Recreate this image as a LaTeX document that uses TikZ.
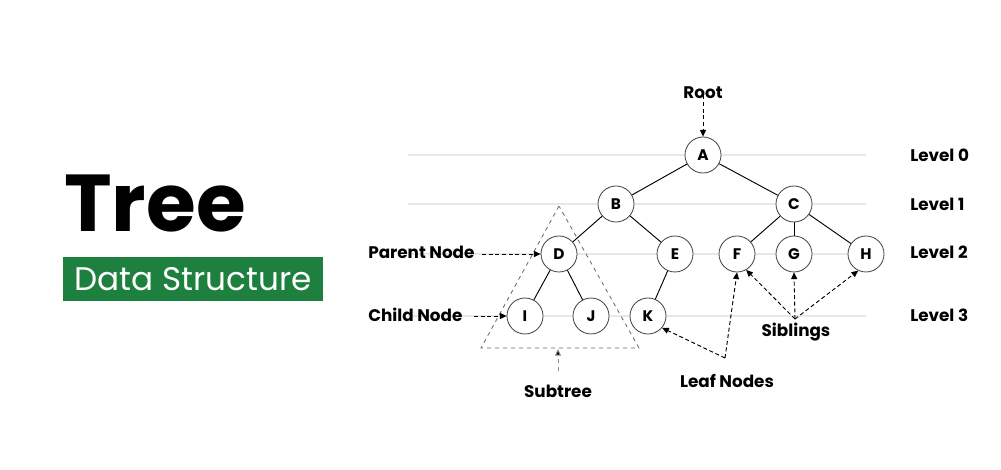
\documentclass[tikz,border=0pt]{standalone}
\usepackage{fontspec}
\setmainfont{Poppins}
\usetikzlibrary{arrows.meta}
\definecolor{gfg}{RGB}{30,128,62}
\begin{document}
\begin{tikzpicture}[x=0.75pt,y=-0.75pt,
  tn/.style={circle,draw=black!75,line width=0.6pt,fill=white,minimum size=27pt,inner sep=0pt,font=\fontsize{11.5}{12}\selectfont\bfseries},
  edge/.style={line width=0.7pt,black},
  lvl/.style={draw=black!9,line width=0.8pt},
  lbl/.style={font=\fontsize{12.6}{14}\selectfont\bfseries,inner sep=0pt},
  darr/.style={densely dashed,line width=0.7pt,-{Triangle[length=5pt,width=4.5pt]}},
  garr/.style={dashed,draw=black!45,line width=0.7pt,-{Triangle[length=5pt,width=4.5pt,fill=black]}}]
\useasboundingbox (0,0) rectangle (1001,470);
% level lines
\foreach \yy in {155,204,254,316} \draw[lvl] (408,\yy) -- (866,\yy);
% title
\node[anchor=base west,inner sep=0pt,font=\fontsize{60.5}{70}\selectfont\bfseries] (title) at (64,232) {Tree};
\node[fill=gfg,anchor=north west,minimum width=195pt,minimum height=33pt,inner sep=0pt] (box) at (63,257) {};
\node[text=white,font=\fontsize{24.5}{26}\selectfont,inner sep=0pt] (sub) at (box.center) {Data Structure};
% subtree triangle
\coordinate (tA) at (559,206);
\coordinate (tL) at (481,348);
\coordinate (tR) at (639,348);
\draw[dashed,draw=black!60,line width=0.6pt] (tA) -- (tL) -- (tR) -- cycle;
% nodes
\node[tn] (A) at (703,155) {A};
\node[tn] (B) at (616,204) {B};
\node[tn] (C) at (794,204) {C};
\node[tn] (D) at (559,254) {D};
\node[tn] (E) at (675,254) {E};
\node[tn] (F) at (737,254) {F};
\node[tn] (G) at (794,254) {G};
\node[tn] (H) at (866,254) {H};
\node[tn] (I) at (525,316) {I};
\node[tn] (J) at (591,316) {J};
\node[tn] (K) at (648,316) {K};
\foreach \a/\b in {A/B,A/C,B/D,B/E,C/F,C/G,C/H,D/I,D/J,E/K}
  \draw[edge] (\a) -- (\b);
% level labels
\node[lbl,anchor=west] (L0) at (910,155) {Level 0};
\node[lbl,anchor=west] (L1) at (910,204) {Level 1};
\node[lbl,anchor=west] (L2) at (910,252) {Level 2};
\node[lbl,anchor=west] (L3) at (910,315) {Level 3};
% annotations
\node[lbl] (root) at (703,93) {Root};
\draw[darr] (root.south) ++(0,-4) coordinate (r0) (r0) -- (A.north);
\node[lbl,anchor=west] (parent) at (368,252) {Parent Node};
\coordinate (p0) at (482,254);
\draw[darr] (p0) -- (D.west);
\node[lbl,anchor=west] (child) at (368,315) {Child Node};
\coordinate (c0) at (474,316);
\draw[darr] (c0) -- (I.west);
\node[lbl] (subtree) at (558,391) {Subtree};
\coordinate (s0) at (558,371);
\coordinate (s1) at (558,349);
\draw[garr] (s0) -- (s1);
\node[lbl] (leaf) at (727,381) {Leaf Nodes};
\coordinate (lf) at (725,358);
\draw[darr] (lf) -- (K.-40);
\draw[darr] (lf) -- (F.south);
\node[lbl] (sib) at (796,332) {Siblings};
\coordinate (sb) at (795,319);
\draw[darr] (sb) -- (F.-60);
\draw[darr] (sb) -- (G.south);
\draw[darr] (sb) -- (H.-115);
\end{tikzpicture}
\end{document}
